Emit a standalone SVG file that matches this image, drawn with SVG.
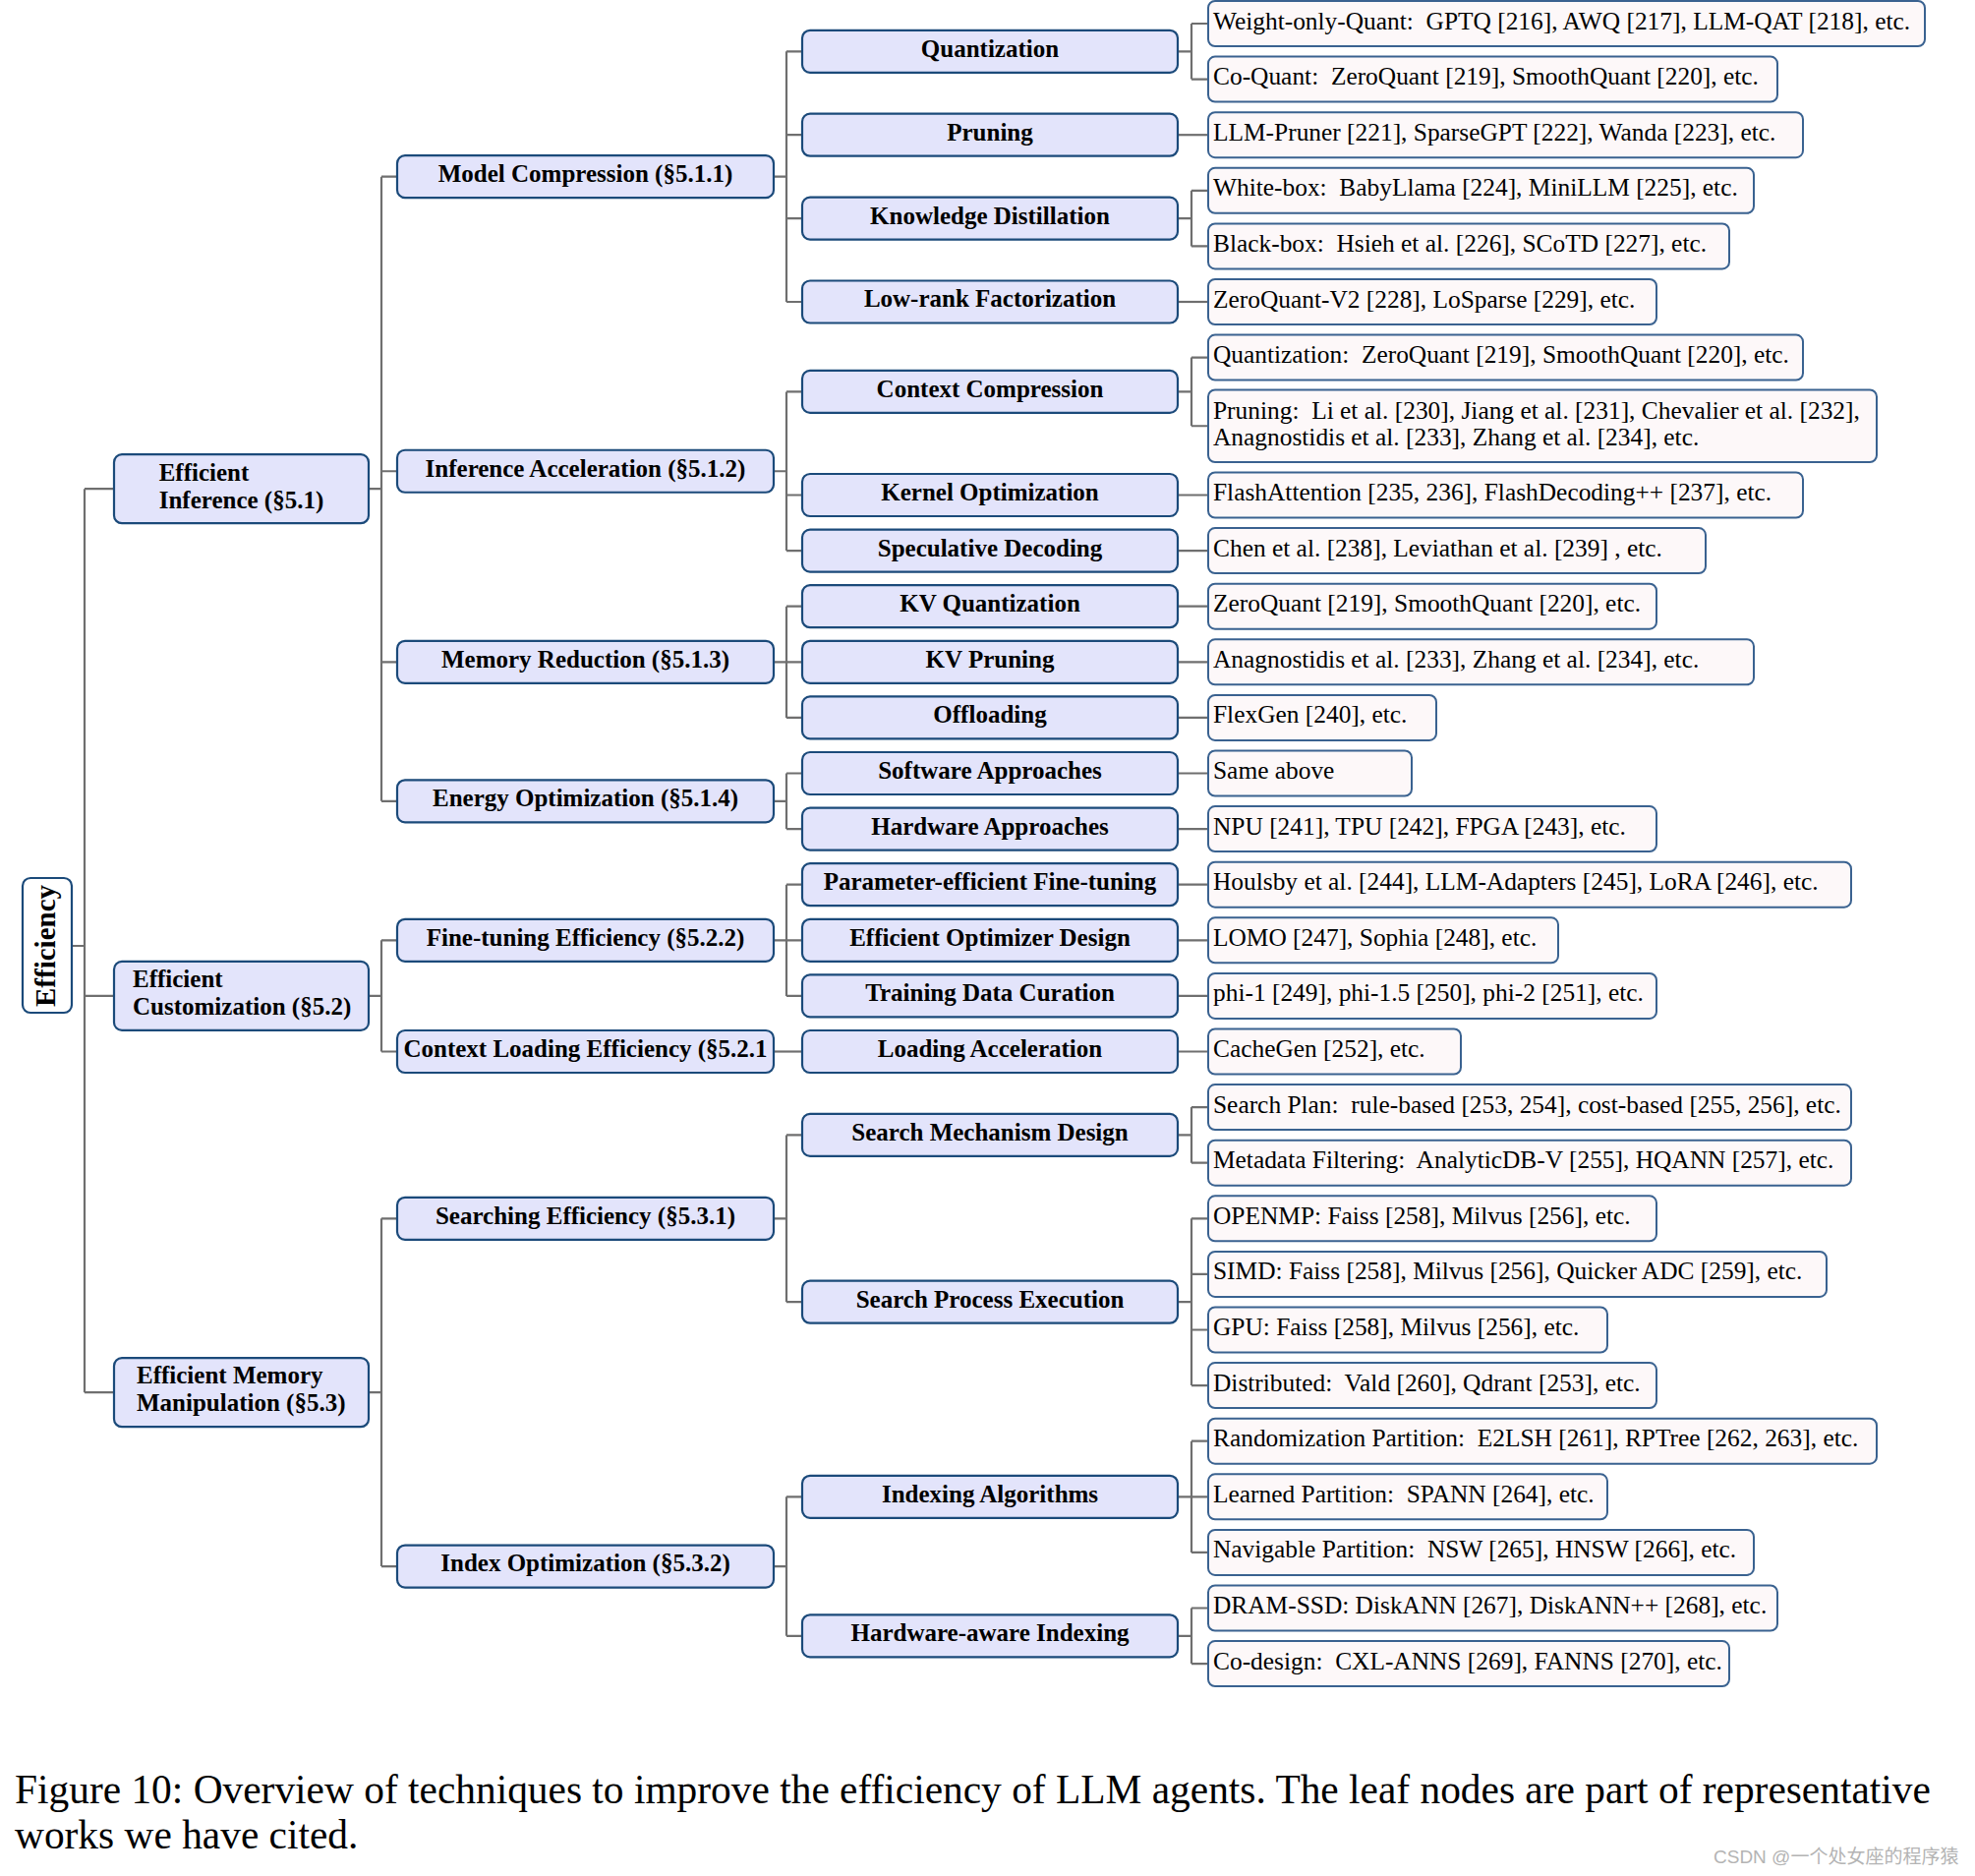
<svg xmlns="http://www.w3.org/2000/svg" width="2009" height="1908" viewBox="0 0 2009 1908">
<style>
.n rect{fill:#e3e4fb;stroke:#1b4a7a;stroke-width:2.2}
.r rect{fill:#ffffff;stroke:#1b4a7a;stroke-width:2.2}
.lf rect{fill:#fdf8f9;stroke:#3a6290;stroke-width:2}
.b{font-family:"Liberation Serif","Times New Roman",serif;font-weight:bold;font-size:25px;fill:#000}
.c{text-anchor:middle}
.t{font-family:"Liberation Serif","Times New Roman",serif;font-size:25.4px;fill:#000;white-space:pre}
#connectors path{fill:none;stroke:#6f6f6f;stroke-width:2.2}
.cap{font-family:"Liberation Serif","Times New Roman",serif;font-size:41.4px;fill:#000}
.wm{font-family:"Liberation Sans","Noto Sans CJK SC",sans-serif;font-size:19px;fill:#b4b4b4}
</style>
<rect width="2009" height="1908" fill="#fff"/>
<g id="connectors">
<path d="M73 962H86M86 497.2V1416.2M86 497.2H116M86 1012.9H116M86 1416.2H116"/>
<path d="M375 497.2H388M388 179.65V814.8M388 179.65H404M388 479.25H404M388 673.3H404M388 814.8H404"/>
<path d="M375 1012.9H388M388 956.3V1069.5M388 956.3H404M388 1069.5H404"/>
<path d="M375 1416.2H388M388 1239.3V1593.05M388 1239.3H404M388 1593.05H404"/>
<path d="M787 179.65H800M800 52.3V307M800 52.3H816M800 137.2H816M800 222.1H816M800 307H816"/>
<path d="M787 479.25H800M800 398.4V560.1M800 398.4H816M800 503.5H816M800 560.1H816"/>
<path d="M787 673.3H800M800 616.7V729.9M800 616.7H816M800 673.3H816M800 729.9H816"/>
<path d="M787 814.8H800M800 786.5V843.1M800 786.5H816M800 843.1H816"/>
<path d="M787 956.3H800M800 899.7V1012.9M800 899.7H816M800 956.3H816M800 1012.9H816"/>
<path d="M787 1069.5H816"/>
<path d="M787 1239.3H800M800 1154.4V1324.2M800 1154.4H816M800 1324.2H816"/>
<path d="M787 1593.05H800M800 1522.3V1663.8M800 1522.3H816M800 1663.8H816"/>
<path d="M1198 52.3H1212M1212 24V80.6M1212 24H1229M1212 80.6H1229"/>
<path d="M1198 137.2H1229"/>
<path d="M1198 222.1H1212M1212 193.8V250.4M1212 193.8H1229M1212 250.4H1229"/>
<path d="M1198 307H1229"/>
<path d="M1198 398.4H1212M1212 363.6V433.25M1212 363.6H1229M1212 433.25H1229"/>
<path d="M1198 503.5H1229M1198 560.1H1229M1198 616.7H1229M1198 673.3H1229M1198 729.9H1229M1198 786.5H1229M1198 843.1H1229M1198 899.7H1229M1198 956.3H1229M1198 1012.9H1229M1198 1069.5H1229"/>
<path d="M1198 1154.4H1212M1212 1126.1V1182.7M1212 1126.1H1229M1212 1182.7H1229"/>
<path d="M1198 1324.2H1212M1212 1239.3V1409.1M1212 1239.3H1229M1212 1295.9H1229M1212 1352.5H1229M1212 1409.1H1229"/>
<path d="M1198 1522.3H1212M1212 1465.7V1578.9M1212 1465.7H1229M1212 1522.3H1229M1212 1578.9H1229"/>
<path d="M1198 1663.8H1212M1212 1635.5V1692.1M1212 1635.5H1229M1212 1692.1H1229"/>
</g>

<g id="root" class="r"><rect x="23" y="893" width="50" height="137" rx="8"/><text class="b c" transform="translate(56,962) rotate(-90)" style="font-size:29px">Efficiency</text></g>

<g id="n-ei" class="n"><rect x="116" y="462.2" width="259" height="70" rx="8"/><text class="b" x="161.7" y="488.7">Efficient</text><text class="b" x="161.7" y="516.7">Inference (§5.1)</text></g>
<g id="n-ec" class="n"><rect x="116" y="977.9" width="259" height="70" rx="8"/><text class="b" x="135" y="1004.4">Efficient</text><text class="b" x="135" y="1032.4">Customization (§5.2)</text></g>
<g id="n-emm" class="n"><rect x="116" y="1381.2" width="259" height="70" rx="8"/><text class="b" x="139" y="1407.2">Efficient Memory</text><text class="b" x="139" y="1435.2">Manipulation (§5.3)</text></g>

<g id="n-mc" class="n"><rect x="404" y="158.15" width="383" height="43" rx="8"/><text class="b c" x="595.5" y="185">Model Compression (§5.1.1)</text></g>
<g id="n-ia" class="n"><rect x="404" y="457.75" width="383" height="43" rx="8"/><text class="b c" x="595.5" y="484.6">Inference Acceleration (§5.1.2)</text></g>
<g id="n-mr" class="n"><rect x="404" y="651.8" width="383" height="43" rx="8"/><text class="b c" x="595.5" y="678.7">Memory Reduction (§5.1.3)</text></g>
<g id="n-eo" class="n"><rect x="404" y="793.3" width="383" height="43" rx="8"/><text class="b c" x="595.5" y="820.2">Energy Optimization (§5.1.4)</text></g>
<g id="n-fe" class="n"><rect x="404" y="934.8" width="383" height="43" rx="8"/><text class="b c" x="595.5" y="961.7">Fine-tuning Efficiency (§5.2.2)</text></g>
<g id="n-cle" class="n"><rect x="404" y="1048" width="383" height="43" rx="8"/><text class="b c" x="595.5" y="1074.9">Context Loading Efficiency (§5.2.1</text></g>
<g id="n-se" class="n"><rect x="404" y="1217.8" width="383" height="43" rx="8"/><text class="b c" x="595.5" y="1244.7">Searching Efficiency (§5.3.1)</text></g>
<g id="n-io" class="n"><rect x="404" y="1571.55" width="383" height="43" rx="8"/><text class="b c" x="595.5" y="1598.4">Index Optimization (§5.3.2)</text></g>

<g id="n-quant" class="n"><rect x="816" y="30.8" width="382" height="43" rx="8"/><text class="b c" x="1007" y="57.7">Quantization</text></g>
<g id="n-prun" class="n"><rect x="816" y="115.7" width="382" height="43" rx="8"/><text class="b c" x="1007" y="142.6">Pruning</text></g>
<g id="n-kd" class="n"><rect x="816" y="200.6" width="382" height="43" rx="8"/><text class="b c" x="1007" y="227.5">Knowledge Distillation</text></g>
<g id="n-lr" class="n"><rect x="816" y="285.5" width="382" height="43" rx="8"/><text class="b c" x="1007" y="312.4">Low-rank Factorization</text></g>
<g id="n-cc" class="n"><rect x="816" y="376.9" width="382" height="43" rx="8"/><text class="b c" x="1007" y="403.8">Context Compression</text></g>
<g id="n-ko" class="n"><rect x="816" y="482" width="382" height="43" rx="8"/><text class="b c" x="1007" y="508.9">Kernel Optimization</text></g>
<g id="n-sd" class="n"><rect x="816" y="538.6" width="382" height="43" rx="8"/><text class="b c" x="1007" y="565.5">Speculative Decoding</text></g>
<g id="n-kvq" class="n"><rect x="816" y="595.2" width="382" height="43" rx="8"/><text class="b c" x="1007" y="622.1">KV Quantization</text></g>
<g id="n-kvp" class="n"><rect x="816" y="651.8" width="382" height="43" rx="8"/><text class="b c" x="1007" y="678.7">KV Pruning</text></g>
<g id="n-off" class="n"><rect x="816" y="708.4" width="382" height="43" rx="8"/><text class="b c" x="1007" y="735.3">Offloading</text></g>
<g id="n-sa" class="n"><rect x="816" y="765" width="382" height="43" rx="8"/><text class="b c" x="1007" y="791.9">Software Approaches</text></g>
<g id="n-ha" class="n"><rect x="816" y="821.6" width="382" height="43" rx="8"/><text class="b c" x="1007" y="848.5">Hardware Approaches</text></g>
<g id="n-peft" class="n"><rect x="816" y="878.2" width="382" height="43" rx="8"/><text class="b c" x="1007" y="905.1">Parameter-efficient Fine-tuning</text></g>
<g id="n-eod" class="n"><rect x="816" y="934.8" width="382" height="43" rx="8"/><text class="b c" x="1007" y="961.7">Efficient Optimizer Design</text></g>
<g id="n-tdc" class="n"><rect x="816" y="991.4" width="382" height="43" rx="8"/><text class="b c" x="1007" y="1018.3">Training Data Curation</text></g>
<g id="n-la" class="n"><rect x="816" y="1048" width="382" height="43" rx="8"/><text class="b c" x="1007" y="1074.9">Loading Acceleration</text></g>
<g id="n-smd" class="n"><rect x="816" y="1132.9" width="382" height="43" rx="8"/><text class="b c" x="1007" y="1159.8">Search Mechanism Design</text></g>
<g id="n-spe" class="n"><rect x="816" y="1302.7" width="382" height="43" rx="8"/><text class="b c" x="1007" y="1329.6">Search Process Execution</text></g>
<g id="n-ia2" class="n"><rect x="816" y="1500.8" width="382" height="43" rx="8"/><text class="b c" x="1007" y="1527.7">Indexing Algorithms</text></g>
<g id="n-hai" class="n"><rect x="816" y="1642.3" width="382" height="43" rx="8"/><text class="b c" x="1007" y="1669.2">Hardware-aware Indexing</text></g>

<g id="leaf-0" class="lf"><rect x="1229" y="1" width="729" height="46" rx="7"/><text class="t" x="1234" y="29.5">Weight-only-Quant:  GPTQ [216], AWQ [217], LLM-QAT [218], etc.</text></g>
<g id="leaf-1" class="lf"><rect x="1229" y="57.6" width="579" height="46" rx="7"/><text class="t" x="1234" y="86.1">Co-Quant:  ZeroQuant [219], SmoothQuant [220], etc.</text></g>
<g id="leaf-2" class="lf"><rect x="1229" y="114.2" width="605" height="46" rx="7"/><text class="t" x="1234" y="142.7">LLM-Pruner [221], SparseGPT [222], Wanda [223], etc.</text></g>
<g id="leaf-3" class="lf"><rect x="1229" y="170.8" width="555" height="46" rx="7"/><text class="t" x="1234" y="199.3">White-box:  BabyLlama [224], MiniLLM [225], etc.</text></g>
<g id="leaf-4" class="lf"><rect x="1229" y="227.4" width="530" height="46" rx="7"/><text class="t" x="1234" y="255.9">Black-box:  Hsieh et al. [226], SCoTD [227], etc.</text></g>
<g id="leaf-5" class="lf"><rect x="1229" y="284" width="456" height="46" rx="7"/><text class="t" x="1234" y="312.5">ZeroQuant-V2 [228], LoSparse [229], etc.</text></g>
<g id="leaf-6" class="lf"><rect x="1229" y="340.6" width="605" height="46" rx="7"/><text class="t" x="1234" y="369.1">Quantization:  ZeroQuant [219], SmoothQuant [220], etc.</text></g>
<g id="leaf-7" class="lf"><rect x="1229" y="396.5" width="680" height="73.5" rx="7"/><text class="t" x="1234" y="425.5">Pruning:  Li et al. [230], Jiang et al. [231], Chevalier et al. [232],</text><text class="t" x="1234" y="452.5">Anagnostidis et al. [233], Zhang et al. [234], etc.</text></g>
<g id="leaf-8" class="lf"><rect x="1229" y="480.5" width="605" height="46" rx="7"/><text class="t" x="1234" y="509">FlashAttention [235, 236], FlashDecoding++ [237], etc.</text></g>
<g id="leaf-9" class="lf"><rect x="1229" y="537.1" width="506" height="46" rx="7"/><text class="t" x="1234" y="565.6">Chen et al. [238], Leviathan et al. [239] , etc.</text></g>
<g id="leaf-10" class="lf"><rect x="1229" y="593.7" width="456" height="46" rx="7"/><text class="t" x="1234" y="622.2">ZeroQuant [219], SmoothQuant [220], etc.</text></g>
<g id="leaf-11" class="lf"><rect x="1229" y="650.3" width="555" height="46" rx="7"/><text class="t" x="1234" y="678.8">Anagnostidis et al. [233], Zhang et al. [234], etc.</text></g>
<g id="leaf-12" class="lf"><rect x="1229" y="706.9" width="232" height="46" rx="7"/><text class="t" x="1234" y="735.4">FlexGen [240], etc.</text></g>
<g id="leaf-13" class="lf"><rect x="1229" y="763.5" width="207" height="46" rx="7"/><text class="t" x="1234" y="792">Same above</text></g>
<g id="leaf-14" class="lf"><rect x="1229" y="820.1" width="456" height="46" rx="7"/><text class="t" x="1234" y="848.6">NPU [241], TPU [242], FPGA [243], etc.</text></g>
<g id="leaf-15" class="lf"><rect x="1229" y="876.7" width="654" height="46" rx="7"/><text class="t" x="1234" y="905.2">Houlsby et al. [244], LLM-Adapters [245], LoRA [246], etc.</text></g>
<g id="leaf-16" class="lf"><rect x="1229" y="933.3" width="356" height="46" rx="7"/><text class="t" x="1234" y="961.8">LOMO [247], Sophia [248], etc.</text></g>
<g id="leaf-17" class="lf"><rect x="1229" y="989.9" width="456" height="46" rx="7"/><text class="t" x="1234" y="1018.4">phi-1 [249], phi-1.5 [250], phi-2 [251], etc.</text></g>
<g id="leaf-18" class="lf"><rect x="1229" y="1046.5" width="257" height="46" rx="7"/><text class="t" x="1234" y="1075">CacheGen [252], etc.</text></g>
<g id="leaf-19" class="lf"><rect x="1229" y="1103.1" width="654" height="46" rx="7"/><text class="t" x="1234" y="1131.6">Search Plan:  rule-based [253, 254], cost-based [255, 256], etc.</text></g>
<g id="leaf-20" class="lf"><rect x="1229" y="1159.7" width="654" height="46" rx="7"/><text class="t" x="1234" y="1188.2">Metadata Filtering:  AnalyticDB-V [255], HQANN [257], etc.</text></g>
<g id="leaf-21" class="lf"><rect x="1229" y="1216.3" width="456" height="46" rx="7"/><text class="t" x="1234" y="1244.8">OPENMP: Faiss [258], Milvus [256], etc.</text></g>
<g id="leaf-22" class="lf"><rect x="1229" y="1272.9" width="629" height="46" rx="7"/><text class="t" x="1234" y="1301.4">SIMD: Faiss [258], Milvus [256], Quicker ADC [259], etc.</text></g>
<g id="leaf-23" class="lf"><rect x="1229" y="1329.5" width="406" height="46" rx="7"/><text class="t" x="1234" y="1358">GPU: Faiss [258], Milvus [256], etc.</text></g>
<g id="leaf-24" class="lf"><rect x="1229" y="1386.1" width="456" height="46" rx="7"/><text class="t" x="1234" y="1414.6">Distributed:  Vald [260], Qdrant [253], etc.</text></g>
<g id="leaf-25" class="lf"><rect x="1229" y="1442.7" width="680" height="46" rx="7"/><text class="t" x="1234" y="1471.2">Randomization Partition:  E2LSH [261], RPTree [262, 263], etc.</text></g>
<g id="leaf-26" class="lf"><rect x="1229" y="1499.3" width="406" height="46" rx="7"/><text class="t" x="1234" y="1527.8">Learned Partition:  SPANN [264], etc.</text></g>
<g id="leaf-27" class="lf"><rect x="1229" y="1555.9" width="555" height="46" rx="7"/><text class="t" x="1234" y="1584.4">Navigable Partition:  NSW [265], HNSW [266], etc.</text></g>
<g id="leaf-28" class="lf"><rect x="1229" y="1612.5" width="579" height="46" rx="7"/><text class="t" x="1234" y="1641">DRAM-SSD: DiskANN [267], DiskANN++ [268], etc.</text></g>
<g id="leaf-29" class="lf"><rect x="1229" y="1669.1" width="530" height="46" rx="7"/><text class="t" x="1234" y="1697.6">Co-design:  CXL-ANNS [269], FANNS [270], etc.</text></g>

<g id="caption">
<text class="cap" x="15" y="1834">Figure 10: Overview of techniques to improve the efficiency of LLM agents. The leaf nodes are part of representative</text>
<text class="cap" x="15" y="1880">works we have cited.</text>
</g>
<text class="wm" x="1743" y="1895">CSDN @一个处女座的程序猿</text>
</svg>
